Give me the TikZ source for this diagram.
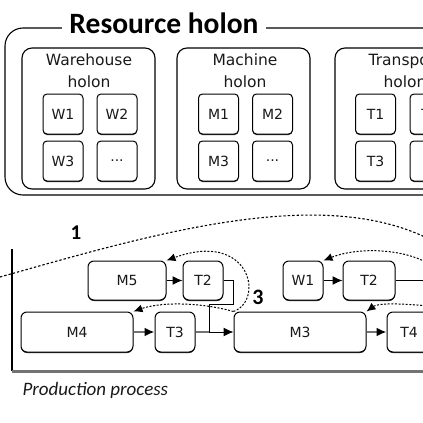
\documentclass[tikz,border=0pt]{standalone}
\usepackage{fontspec}
\setmainfont{Carlito}
\newfontfamily\labelfont{DejaVu Sans}
\usetikzlibrary{arrows.meta,shadows}

\tikzset{
  holon/.style={draw,line width=1.1pt,rounded corners=10pt},
  unitbox/.style={draw,line width=1pt,rounded corners=4pt,fill=white,
    minimum width=40pt,minimum height=40pt,text=black!90,
    font=\labelfont\fontsize{14}{14}\selectfont,
    drop shadow={shadow xshift=0pt,shadow yshift=-1pt,fill=black!85,opacity=1}},
  procbox/.style={unitbox,rounded corners=6pt,minimum height=39pt},
  flow/.style={-{Latex[length=10pt,width=9pt]},line width=1pt},
  grayflow/.style={-{Latex[length=10pt,width=9pt,color=black]},line width=2.6pt,black!55},
  feedback/.style={-{Latex[length=9pt,width=8pt]},line width=1pt,dash pattern=on 2pt off 1.6pt},
  holontitle/.style={font=\labelfont\fontsize{15.5}{15.5}\selectfont,text=black!90}
}

\begin{document}
\begin{tikzpicture}[x=1pt,y=-1pt]
  \useasboundingbox (0,0) rectangle (423,423);
  \clip (0,0) rectangle (423,423);

  \draw[holon,rounded corners=18pt] (5,28) rectangle (470,195);
  \node[fill=white,inner xsep=7pt,anchor=base,text=black,
    font=\bfseries\fontsize{29.5}{29.5}\selectfont] (res) at (164,33) {Resource holon};

  \draw[holon] (22,48) rectangle (155,189);
  \draw[holon] (177,48) rectangle (310,189);
  \draw[holon] (335,48) rectangle (470,189);
  \node[holontitle,anchor=base] (wh) at (89,65) {Warehouse};
  \node[holontitle,anchor=base] (whb) at (89,87) {holon};
  \node[holontitle,anchor=base] (mh) at (245,65) {Machine};
  \node[holontitle,anchor=base] (mhb) at (245,87) {holon};
  \node[holontitle,anchor=base] (th) at (405,65) {Transport};
  \node[holontitle,anchor=base] (thb) at (405,87) {holon};

  \node[unitbox] (w1) at (63,114) {W1};
  \node[unitbox] (w2) at (117,114) {W2};
  \node[unitbox] (w3) at (63,161) {W3};
  \node[unitbox] (w4) at (117,161) {...};
  \node[unitbox] (m1) at (218.5,114) {M1};
  \node[unitbox] (m2) at (272.5,114) {M2};
  \node[unitbox] (m3) at (218.5,161) {M3};
  \node[unitbox] (m4) at (272.5,161) {...};
  \node[unitbox] (t1) at (375.5,114) {T1};
  \node[unitbox] (t2) at (430,114) {T2};
  \node[unitbox] (t3) at (375.5,161) {T3};
  \node[unitbox] (t4) at (430,161) {...};

  \draw[line width=1.6pt] (12,249) -- (12,371);
  \draw[line width=3pt,black!55] (12,371) -- (440,371);
  \node[anchor=west,text=black!90,font=\itshape\fontsize{19}{19}\selectfont] (prod) at (19,390) {Production process};

  \draw[line width=1.1pt,dash pattern=on 2.4pt off 2pt] (0,277) .. controls (150,235) and (330,180) .. (440,245);
  \node[font=\bfseries\fontsize{21}{21}\selectfont] (one) at (76,233) {1};
  \node[font=\bfseries\fontsize{22}{22}\selectfont] (three) at (258,297) {3};

  \node[procbox,minimum width=78pt] (pm5) at (127,280.5) {M5};
  \node[procbox] (pt2) at (203,280.5) {T2};
  \node[procbox] (pw1) at (303,280.5) {W1};
  \node[procbox,minimum width=52pt] (pt2b) at (369,280.5) {T2};
  \node[procbox,minimum width=112pt,minimum height=40pt] (pm4) at (77,332) {M4};
  \node[procbox,minimum height=40pt] (pt3) at (175,332) {T3};
  \node[procbox,minimum width=132pt,minimum height=40pt] (pm3) at (300,332) {M3};
  \node[procbox,minimum width=44pt,minimum height=40pt] (pt4) at (409,332) {T4};

  \coordinate (join) at (209,332);
  \coordinate (out) at (440,280.5);
  \draw[flow] (pm5) -- (pt2);
  \draw[flow] (pw1) -- (pt2b);
  \draw[grayflow] (pm4) -- (pt3);
  \draw[line width=2.6pt,black!55] (pt3.east) -- (join);
  \draw[flow] (pt2.east) -- (233,280.5) -- (233,304) -- (209,304) -- (join) -- (pm3.west);
  \draw[grayflow] (pm3) -- (pt4);
  \draw[line width=1pt] (pt2b.east) -- (out);

  \draw[feedback] (pm3.north west) .. controls (265,300) and (250,230) .. (pm5.north east);
  \draw[feedback] (pm3.north west) .. controls (200,302) and (160,302) .. (pm4.north east);
  \draw[feedback] (440,272) .. controls (415,248) and (360,246) .. (pw1.north east);
  \draw[feedback] (440,307) .. controls (400,303) and (378,303) .. (pm3.north east);
\end{tikzpicture}
\end{document}
